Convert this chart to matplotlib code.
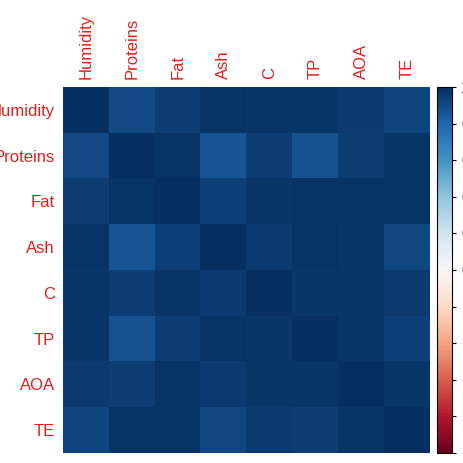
import matplotlib
matplotlib.use("Agg")
import matplotlib.pyplot as plt
import numpy as np

labels = ["Humidity", "Proteins", "Fat", "Ash", "C", "TP", "AOA", "TE"]
corr = [
    [1.00, 0.90, 0.95, 0.98, 0.97, 0.97, 0.96, 0.92],
    [0.90, 1.00, 0.98, 0.86, 0.94, 0.87, 0.95, 0.98],
    [0.95, 0.98, 1.00, 0.93, 0.97, 0.98, 0.98, 0.98],
    [0.98, 0.86, 0.93, 1.00, 0.96, 0.98, 0.97, 0.91],
    [0.97, 0.94, 0.97, 0.96, 1.00, 0.97, 0.97, 0.96],
    [0.97, 0.87, 0.95, 0.98, 0.97, 1.00, 0.97, 0.93],
    [0.96, 0.94, 0.98, 0.96, 0.97, 0.97, 1.00, 0.97],
    [0.92, 0.98, 0.98, 0.91, 0.96, 0.94, 0.97, 1.00],
]
cbar_ticks = [-1, -0.8, -0.6, -0.4, -0.2, 0, 0.2, 0.4, 0.6, 0.8, 1]

plt.rcParams['font.family'] = ['Liberation Sans', 'DejaVu Sans']
W = H = 463
fig = plt.figure(figsize=(4.63, 4.63), dpi=100)
ax = fig.add_axes([63/W, 1-453/H, (430-63)/W, (453-87)/H])
im = ax.imshow(np.array(corr), cmap="RdBu", vmin=-1, vmax=1, aspect="auto")
ax.set_xticks(range(len(labels)))
ax.set_yticks(range(len(labels)))
ax.set_xticklabels(labels, rotation=90, color="#e0201c", fontsize=12)
ax.set_yticklabels(labels, color="#e0201c", fontsize=12)
ax.xaxis.tick_top()
ax.tick_params(length=0, pad=6)
for s in ax.spines.values():
    s.set_visible(False)

cax = fig.add_axes([437/W, 1-453/H, 15/W, (453-87)/H])
cb = fig.colorbar(im, cax=cax, ticks=cbar_ticks)
cb.ax.tick_params(labelsize=12, length=3)
cb.outline.set_linewidth(0.8)
fig.savefig("out.png", dpi=100)
